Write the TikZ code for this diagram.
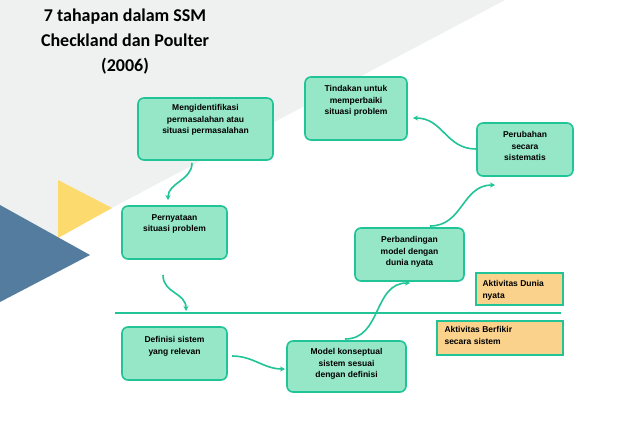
\documentclass[tikz,border=0pt]{standalone}
\usepackage{fontspec}
\setmainfont{Liberation Sans}
\newfontfamily\titlefont{Carlito}
\usetikzlibrary{arrows.meta}
\definecolor{teal1}{RGB}{32,196,150}
\definecolor{mint}{RGB}{150,230,200}
\definecolor{grayb}{RGB}{239,240,240}
\definecolor{blueb}{RGB}{84,124,158}
\definecolor{yel}{RGB}{253,218,110}
\definecolor{orng}{RGB}{250,210,140}
\begin{document}
\begin{tikzpicture}[x=1pt,y=-1pt,
  stepbox/.style={draw=teal1,line width=1.6pt,fill=mint,rounded corners=6pt,inner sep=0pt},
  btxt/.style={font=\bfseries\fontsize{8.5}{11.5}\selectfont,align=center,anchor=north},
  obox/.style={draw=teal1,line width=1.6pt,fill=orng,inner sep=0pt},
  otxt/.style={font=\bfseries\fontsize{8.5}{11.5}\selectfont,align=left,anchor=north west},
  arr/.style={draw=teal1,line width=1.6pt,-{Stealth[length=5pt,width=5pt]}}]
\useasboundingbox (0,0) rectangle (638,442);
\fill[white] (0,0) rectangle (638,442);
\fill[grayb] (0,0) -- (505,0) -- (0,267) -- cycle;
\fill[yel] (58,180) -- (112,208) -- (58,238) -- cycle;
\fill[blueb] (0,205) -- (90,255) -- (0,302) -- cycle;
\node[font=\titlefont\bfseries\fontsize{18}{25}\selectfont,align=center] (title) at (125,42) {7 tahapan dalam SSM\\Checkland dan Poulter\\(2006)};
% boxes
\draw[stepbox] (138,98) rectangle (273,160); \node[btxt] (b1) at (205.5,101) {Mengidentifikasi\\permasalahan atau\\situasi permasalahan};
\draw[stepbox] (122,206) rectangle (227,259); \node[btxt] (b2) at (174.5,211) {Pernyataan\\situasi problem};
\draw[stepbox] (122,327) rectangle (227,380); \node[btxt] (b3) at (174.5,333) {Definisi sistem\\yang relevan};
\draw[stepbox] (287,341) rectangle (406,392); \node[btxt] (b4) at (346.5,345) {Model konseptual\\sistem sesuai\\dengan definisi};
\draw[stepbox] (355,228) rectangle (464,281); \node[btxt] (b5) at (409.5,233) {Perbandingan\\model dengan\\dunia nyata};
\draw[stepbox] (477,123) rectangle (573,176); \node[btxt] (b6) at (525,128) {Perubahan\\secara\\sistematis};
\draw[stepbox] (305,77) rectangle (407,140); \node[btxt] (b7) at (356,82) {Tindakan untuk\\memperbaiki\\situasi problem};
\draw[obox] (476,273) rectangle (563,305); \node[otxt] (o1) at (479,277) {Aktivitas Dunia\\nyata};
\draw[obox] (437,321) rectangle (563,355); \node[otxt] (o2) at (441,323) {Aktivitas Berfikir\\secara sistem};
\coordinate (l1) at (115,313); \coordinate (l2) at (561,313);
\draw[teal1,line width=1.6pt] (l1) -- (l2);
% arrows
\coordinate (a1s) at (192,163); \coordinate (a1e) at (168,200);
\draw[arr] (a1s) to[out=-90,in=90,looseness=1] (a1e);
\coordinate (a2s) at (163,275); \coordinate (a2e) at (186,311);
\draw[arr] (a2s) to[out=-90,in=90,looseness=1.1] (a2e);
\coordinate (a3s) at (232,356); \coordinate (a3e) at (285,369);
\draw[arr] (a3s) to[out=0,in=180,looseness=1] (a3e);
\coordinate (a4s) at (345,339); \coordinate (a4e) at (410,283);
\draw[arr] (a4s) to[out=0,in=180,looseness=1.1] (a4e);
\coordinate (a5s) at (430,226); \coordinate (a5e) at (495,185);
\draw[arr] (a5s) to[out=0,in=180,looseness=1.1] (a5e);
\coordinate (a6s) at (476,149); \coordinate (a6e) at (413,118);
\draw[arr] (a6s) to[out=180,in=0,looseness=1.1] (a6e);
\end{tikzpicture}
\end{document}
